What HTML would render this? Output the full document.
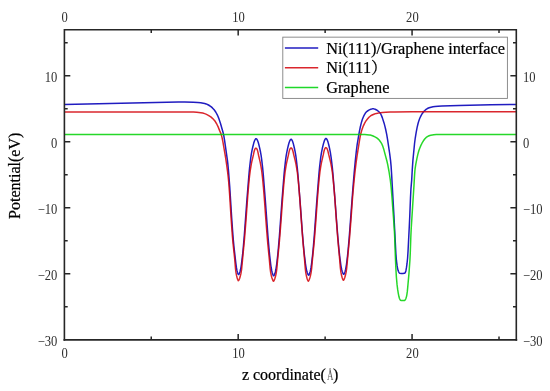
<!DOCTYPE html>
<html lang="en"><head><meta charset="utf-8"><title>Potential vs z coordinate</title>
<style>html,body{margin:0;padding:0;background:#fff;}body{width:550px;height:391px;overflow:hidden;}svg{display:block;}</style>
</head><body>
<svg width="550" height="391" viewBox="0 0 550 391">
<rect width="550" height="391" fill="#ffffff"/>
<clipPath id="c"><rect x="64.4" y="29.7" width="451.9" height="310.15000000000003"/></clipPath>
<g clip-path="url(#c)" fill="none" stroke-width="1.5" stroke-linejoin="round" stroke-linecap="butt">
<path d="M64.30,104.50 L178.27,102.04 L184.77,102.03 L193.27,102.31 L197.78,102.53 L200.75,102.75 L203.24,103.16 L204.70,103.51 L206.11,103.93 L207.96,104.75 L209.29,105.50 L210.53,106.32 L211.31,106.92 L212.43,107.93 L214.14,109.81 L215.03,110.99 L215.86,112.24 L217.31,114.89 L217.93,116.25 L218.67,118.10 L220.43,123.33 L223.08,132.46 L223.74,135.37 L224.50,139.80 L227.40,160.11 L227.87,164.08 L228.44,170.05 L229.75,187.01 L231.70,217.94 L232.48,229.42 L233.22,238.89 L233.96,246.85 L235.85,263.26 L236.46,267.72 L236.89,270.17 L237.36,272.14 L237.86,273.54 L238.12,274.08 L238.43,274.51 L238.72,274.56 L239.02,274.18 L239.50,273.17 L240.01,271.75 L240.49,269.80 L241.04,266.87 L241.48,263.89 L242.61,254.45 L243.33,246.98 L244.34,235.03 L246.97,199.12 L249.01,173.70 L249.63,167.23 L250.69,158.29 L251.28,154.34 L251.91,150.90 L252.77,146.98 L253.75,143.11 L254.55,140.72 L254.97,139.81 L255.59,138.93 L255.97,138.63 L256.34,138.69 L256.72,139.06 L257.05,139.53 L257.51,140.39 L258.20,142.29 L258.75,144.22 L259.69,148.10 L260.51,152.02 L261.11,155.47 L261.66,159.43 L262.65,167.87 L263.26,174.34 L265.29,199.76 L267.91,235.67 L268.92,247.63 L269.68,255.59 L270.80,265.04 L271.25,268.01 L271.70,270.46 L272.14,272.41 L272.77,274.31 L273.25,275.32 L273.55,275.73 L273.84,275.74 L274.13,275.34 L274.40,274.79 L274.96,273.40 L275.36,271.94 L275.87,269.50 L276.70,264.06 L277.79,254.61 L278.48,247.14 L279.44,235.68 L282.00,200.27 L284.01,174.85 L284.63,168.38 L285.60,159.94 L286.15,155.97 L286.74,152.53 L287.56,148.61 L288.50,144.72 L289.05,142.79 L289.74,140.89 L290.22,140.03 L290.57,139.57 L290.95,139.24 L291.31,139.27 L291.68,139.65 L292.24,140.55 L292.79,141.96 L293.37,143.87 L294.30,147.76 L295.12,151.68 L295.73,155.13 L296.22,158.59 L297.26,167.53 L297.88,174.00 L299.95,199.92 L302.46,233.83 L303.44,245.29 L304.25,253.75 L305.39,263.19 L305.82,266.17 L306.34,269.12 L306.89,271.55 L307.34,273.00 L307.96,274.41 L308.26,274.92 L308.56,275.20 L308.86,275.02 L309.15,274.53 L309.76,273.09 L310.19,271.63 L310.62,269.68 L311.05,267.23 L311.49,264.25 L312.60,254.81 L313.31,247.34 L314.31,235.38 L316.90,199.48 L318.96,173.56 L319.64,166.59 L320.77,157.15 L321.46,152.71 L322.35,148.30 L323.53,143.44 L324.45,140.57 L324.86,139.65 L325.12,139.23 L325.47,138.77 L325.85,138.44 L326.21,138.47 L326.58,138.85 L327.15,139.74 L327.35,140.19 L328.02,142.10 L328.67,144.51 L329.56,148.41 L330.34,152.34 L331.25,158.27 L332.34,167.71 L332.91,173.68 L334.72,196.11 L336.45,219.54 L337.70,235.49 L338.91,248.94 L339.82,257.39 L340.82,264.84 L341.24,267.31 L341.75,269.74 L342.13,271.20 L342.63,272.62 L343.39,274.07 L343.70,274.30 L343.99,274.07 L344.71,272.60 L345.19,271.17 L345.65,269.22 L346.49,264.30 L347.47,256.35 L348.23,248.89 L349.23,237.43 L352.91,188.06 L354.11,173.61 L355.32,160.67 L356.26,151.71 L357.20,144.28 L359.22,132.44 L360.18,127.54 L360.99,124.12 L361.64,121.68 L362.41,119.31 L363.32,116.99 L364.21,115.07 L365.26,113.26 L366.15,112.13 L367.15,111.25 L368.86,110.15 L369.83,109.66 L370.83,109.25 L372.31,108.86 L373.24,108.80 L373.70,108.85 L375.14,109.26 L376.60,109.99 L377.52,110.59 L378.36,111.23 L379.70,112.53 L380.24,113.24 L380.96,114.49 L381.61,115.89 L382.38,117.87 L384.10,123.18 L384.88,126.08 L385.58,129.02 L386.70,134.41 L387.62,139.83 L389.68,153.69 L390.57,160.64 L391.09,166.11 L391.58,173.59 L393.93,215.53 L395.91,253.98 L396.42,260.46 L397.06,265.43 L397.57,268.37 L398.05,270.36 L398.38,271.30 L398.80,272.18 L399.11,272.66 L399.47,273.06 L399.85,273.29 L401.29,273.47 L402.86,273.48 L404.36,273.33 L404.73,273.19 L405.08,272.82 L405.37,272.32 L405.74,271.39 L405.98,270.43 L406.49,267.43 L406.98,263.96 L407.60,257.99 L408.05,251.01 L409.34,225.54 L409.77,216.05 L410.50,197.56 L410.96,188.57 L411.69,180.11 L412.27,169.62 L412.89,160.64 L414.57,143.23 L415.29,137.77 L416.18,132.34 L417.13,127.42 L418.05,123.52 L418.89,120.66 L419.78,118.30 L421.05,115.59 L422.34,113.43 L423.56,111.82 L424.56,110.74 L426.09,109.40 L427.36,108.56 L429.14,107.79 L431.06,107.17 L433.04,106.71 L435.02,106.45 L438.00,106.22 L442.01,106.01 L459.01,105.45 L491.00,104.77 L516.40,104.40" stroke="#201cc0"/>
<path d="M64.30,111.90 L169.31,111.91 L190.30,111.95 L193.31,112.04 L196.81,112.27 L200.77,112.67 L202.74,113.08 L204.67,113.65 L206.52,114.35 L208.75,115.54 L210.82,116.93 L212.74,118.56 L213.80,119.65 L214.74,120.79 L215.59,122.01 L216.61,123.75 L218.15,126.90 L219.63,130.62 L220.84,133.38 L221.17,134.32 L222.05,137.67 L222.87,141.58 L225.64,157.89 L226.38,162.84 L227.52,171.26 L228.17,176.73 L228.66,181.70 L229.57,193.66 L231.24,220.11 L232.31,235.08 L233.04,243.54 L234.70,258.95 L235.52,268.93 L236.04,272.90 L236.62,275.88 L237.12,277.81 L237.58,279.22 L238.04,280.34 L238.30,280.67 L238.55,280.63 L238.83,280.26 L239.10,279.72 L239.68,278.25 L240.14,276.83 L240.97,273.40 L241.60,269.44 L244.57,238.07 L245.95,220.62 L247.84,194.69 L248.68,184.73 L249.46,176.77 L250.27,170.32 L251.35,163.91 L251.97,160.97 L253.46,154.64 L254.06,151.70 L254.63,149.75 L255.06,148.88 L255.40,148.45 L255.81,148.13 L256.20,148.19 L256.61,148.57 L256.91,148.99 L257.31,149.89 L257.87,151.84 L258.58,155.27 L260.27,162.58 L261.01,166.51 L261.71,170.95 L262.49,177.40 L263.44,187.36 L264.56,201.32 L265.90,220.27 L267.15,236.22 L267.79,243.69 L269.36,259.62 L270.15,268.59 L270.69,272.55 L271.41,276.02 L271.96,277.95 L272.63,279.82 L273.15,280.90 L273.42,281.18 L273.68,281.11 L273.96,280.72 L274.23,280.17 L274.79,278.70 L275.38,276.80 L275.86,274.84 L276.25,272.85 L276.86,268.40 L277.65,259.42 L279.16,243.99 L279.85,236.02 L281.08,220.07 L282.42,201.12 L283.50,187.66 L284.38,178.20 L285.12,171.74 L285.71,167.79 L286.50,163.36 L288.49,154.58 L289.21,151.15 L289.64,149.69 L290.05,148.79 L290.35,148.37 L290.75,147.99 L291.15,147.93 L291.57,148.23 L292.18,149.05 L292.57,149.98 L293.00,151.43 L293.76,154.85 L295.21,160.68 L295.86,163.61 L296.76,168.53 L297.41,172.98 L298.24,180.43 L299.18,190.89 L300.07,202.36 L301.31,220.31 L302.50,236.27 L303.20,244.74 L304.56,259.68 L305.29,268.66 L305.86,273.12 L306.56,276.59 L307.08,278.51 L307.57,279.97 L308.06,281.01 L308.31,281.20 L308.57,281.00 L309.11,279.98 L309.80,278.08 L310.36,276.15 L311.09,272.69 L311.69,268.23 L312.43,259.75 L314.00,243.83 L314.69,235.86 L315.93,219.91 L317.27,200.96 L318.31,188.00 L319.18,178.54 L319.91,172.08 L320.57,167.63 L321.36,163.20 L323.35,154.42 L323.95,151.47 L324.33,150.02 L324.67,149.05 L325.14,148.20 L325.53,147.78 L325.93,147.60 L326.35,147.81 L326.74,148.22 L327.24,149.05 L327.89,150.98 L328.66,154.40 L330.13,160.22 L330.79,163.14 L331.62,167.56 L332.30,172.01 L333.16,179.46 L334.17,190.42 L335.08,201.88 L336.30,219.34 L337.54,235.79 L338.26,244.26 L339.64,259.20 L340.34,267.68 L340.91,272.14 L341.61,275.61 L342.14,277.53 L342.62,278.96 L343.10,280.04 L343.36,280.29 L343.62,280.16 L344.16,279.18 L344.72,277.73 L345.30,275.83 L346.08,272.38 L346.66,268.42 L349.56,237.54 L350.93,220.10 L352.35,200.15 L353.28,189.19 L354.23,179.23 L355.24,169.78 L356.21,161.85 L357.07,155.91 L359.55,140.09 L360.25,136.16 L361.05,132.74 L362.05,129.37 L363.26,126.11 L364.55,123.36 L365.82,121.18 L367.25,119.19 L368.96,117.27 L370.49,115.96 L372.15,114.98 L374.48,113.98 L376.43,113.40 L379.35,112.87 L382.34,112.49 L385.84,112.22 L390.33,111.98 L394.83,111.89 L412.33,111.81 L516.40,111.70" stroke="#d40008" stroke-opacity="0.85"/>
<path d="M64.30,134.45 L357.30,134.46 L364.81,134.60 L369.29,134.91 L370.26,135.07 L371.72,135.49 L373.14,136.05 L374.95,136.86 L375.83,137.35 L377.10,138.20 L378.25,139.15 L378.94,139.84 L379.90,141.02 L381.04,142.67 L381.81,143.97 L382.43,145.33 L383.12,147.18 L383.85,149.57 L386.83,160.72 L387.72,164.62 L389.00,171.50 L390.29,179.91 L390.78,183.88 L391.24,188.35 L391.95,196.82 L393.89,223.26 L394.32,229.74 L394.63,235.73 L395.27,254.22 L395.85,268.21 L396.40,277.20 L397.06,284.66 L397.62,289.14 L398.24,293.09 L398.91,296.55 L399.48,298.45 L399.92,299.44 L400.21,299.92 L400.54,300.27 L400.90,300.42 L401.36,300.50 L402.93,300.60 L403.99,300.51 L404.46,300.43 L404.82,300.29 L405.15,299.96 L405.45,299.49 L405.90,298.49 L406.49,296.60 L406.88,294.61 L407.29,291.65 L407.65,288.16 L408.98,273.21 L409.88,260.74 L410.25,253.75 L410.83,236.76 L411.24,228.28 L414.01,184.86 L414.58,174.87 L414.88,170.89 L415.16,168.41 L415.77,164.45 L416.89,158.55 L417.77,154.64 L418.82,150.78 L419.62,148.42 L420.80,145.65 L422.13,142.96 L423.42,140.81 L424.92,138.77 L425.96,137.65 L427.10,136.77 L428.42,136.06 L429.86,135.50 L430.82,135.28 L433.76,134.83 L436.28,134.58 L438.29,134.50 L447.79,134.45 L516.40,134.45" stroke="#00d104" stroke-opacity="0.85"/>
</g>
<g stroke="#262626" stroke-width="1.6" fill="none" stroke-linecap="square">
<path d="M64.4,339.85 V29.7 H516.3 V339.85"/>
<path d="M64.4,339.85 H516.3" stroke-width="1.8"/>
</g>
<g stroke="#262626" stroke-width="1.5" fill="none">
<path d="M238.18,339.85 v-5.9 M238.18,29.7 v5.9 M412.07,339.85 v-5.9 M412.07,29.7 v5.9 M151.24,339.85 v-3.3 M151.24,29.7 v3.3 M325.13,339.85 v-3.3 M325.13,29.7 v3.3 M499.01,339.85 v-3.3 M499.01,29.7 v3.3 M64.4,75.80 h5.9 M516.3,75.80 h-5.9 M64.4,141.80 h5.9 M516.3,141.80 h-5.9 M64.4,207.80 h5.9 M516.3,207.80 h-5.9 M64.4,273.80 h5.9 M516.3,273.80 h-5.9 M64.4,42.80 h3.3 M516.3,42.80 h-3.3 M64.4,108.80 h3.3 M516.3,108.80 h-3.3 M64.4,174.80 h3.3 M516.3,174.80 h-3.3 M64.4,240.80 h3.3 M516.3,240.80 h-3.3 M64.4,306.80 h3.3 M516.3,306.80 h-3.3"/>
</g>
<g font-family="'Liberation Serif', 'Noto Serif CJK SC', serif" font-size="14.3" fill="#2e2e2e">
<text transform="translate(64.6,21.9) scale(0.88,1)" text-anchor="middle">0</text>
<text transform="translate(64.6,357.6) scale(0.88,1)" text-anchor="middle">0</text>
<text transform="translate(238.5,21.9) scale(0.88,1)" text-anchor="middle">10</text>
<text transform="translate(238.5,357.6) scale(0.88,1)" text-anchor="middle">10</text>
<text transform="translate(412.4,21.9) scale(0.88,1)" text-anchor="middle">20</text>
<text transform="translate(412.4,357.6) scale(0.88,1)" text-anchor="middle">20</text>
<text transform="translate(57.4,81.75) scale(0.88,1)" text-anchor="end">10</text>
<text transform="translate(523.0,81.75) scale(0.88,1)" text-anchor="start">10</text>
<text transform="translate(57.4,147.75) scale(0.88,1)" text-anchor="end">0</text>
<text transform="translate(523.0,147.75) scale(0.88,1)" text-anchor="start">0</text>
<text transform="translate(57.4,213.75) scale(0.88,1)" text-anchor="end">−10</text>
<text transform="translate(523.0,213.75) scale(0.88,1)" text-anchor="start">−10</text>
<text transform="translate(57.4,279.75) scale(0.88,1)" text-anchor="end">−20</text>
<text transform="translate(523.0,279.75) scale(0.88,1)" text-anchor="start">−20</text>
<text transform="translate(57.4,345.75) scale(0.88,1)" text-anchor="end">−30</text>
<text transform="translate(523.0,345.75) scale(0.88,1)" text-anchor="start">−30</text>
</g>
<g font-family="'Liberation Serif', 'Noto Serif CJK SC', serif" font-size="16" fill="#000" stroke="#000" stroke-width="0.22">
<text x="241.9" y="379.6">z coordinate(</text>
<text transform="translate(326.9,379.6) scale(0.56,0.93)" fill="#555" stroke="none">Å</text>
<text x="332.9" y="379.6">)</text>
<text transform="translate(20.3,175.8) rotate(-90)" text-anchor="middle">Potential(eV)</text>
</g>
<rect x="282.8" y="37.15" width="224.6" height="61.25" fill="#ffffff" stroke="#808080" stroke-width="0.9"/>
<g font-family="'Liberation Serif', 'Noto Serif CJK SC', serif" font-size="16.25" fill="#000" stroke="#000" stroke-width="0.22">
<path d="M284.9,47.90 H318.2" stroke="#201cc0" stroke-width="1.5"/>
<text x="326.2" y="53.60">Ni(111)/Graphene interface</text>
<path d="M284.9,67.70 H318.2" stroke="#da262d" stroke-width="1.5"/>
<text x="326.2" y="73.35">Ni(111）</text>
<path d="M284.9,87.50 H318.2" stroke="#1ed82a" stroke-width="1.5"/>
<text x="326.2" y="93.10">Graphene</text>
</g>
</svg>
</body></html>
